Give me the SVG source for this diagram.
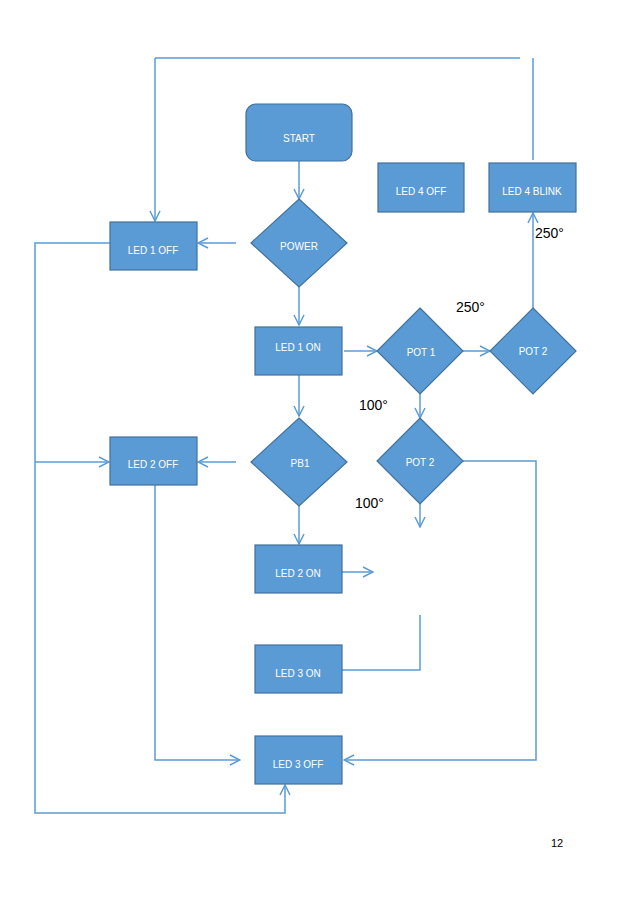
<svg xmlns="http://www.w3.org/2000/svg" width="638" height="902" viewBox="0 0 638 902">
<style>
.n{fill:#5B9BD5;stroke:#41719C;stroke-width:1.2}
.t{fill:#fff;font-family:"Liberation Sans",Arial,sans-serif;font-size:10px;text-anchor:middle;dominant-baseline:central}
.c{fill:none;stroke:#5B9BD5;stroke-width:1.5}
.a{marker-end:url(#ar)}
.l{font-family:"Liberation Sans",Arial,sans-serif;font-size:14px;fill:#000}
</style>
<defs><marker id="ar" viewBox="0 0 12 12" refX="11" refY="6" markerWidth="12" markerHeight="12" markerUnits="userSpaceOnUse" orient="auto"><path d="M1,1 L11,6 L1,11" fill="none" stroke="#5B9BD5" stroke-width="1.5"/></marker></defs>
<rect width="638" height="902" fill="#fff"/>
<g id="connectors">
<path class="c a" d="M299,161 V199"/>
<path class="c a" d="M236,243 H198"/>
<path class="c" d="M533,160 V58 M520,58 H155"/>
<path class="c a" d="M155,58 V221"/>
<path class="c a" d="M299,287 V325"/>
<path class="c a" d="M344,351 H377"/>
<path class="c a" d="M463,351 H490"/>
<path class="c a" d="M533,308 V213"/>
<path class="c a" d="M299,375 V416"/>
<path class="c a" d="M420,394 V418"/>
<path class="c a" d="M420,504 V527"/>
<path class="c a" d="M463,461 H536 V760 H344"/>
<path class="c a" d="M236,462 H198"/>
<path class="c a" d="M110,243 H35 V813 H285 V785"/>
<path class="c a" d="M35,462 H109"/>
<path class="c a" d="M155,485 V760 H240"/>
<path class="c a" d="M299,506 V544"/>
<path class="c a" d="M342,572 H373"/>
<path class="c" d="M342,670 H420 V615"/>
</g>
<g id="start"><rect class="n" x="246" y="104" width="106" height="57" rx="10"/><text class="t" x="299" y="138">START</text></g>
<g id="power"><polygon class="n" points="299,199 347,243 299,287 251,243"/><text class="t" x="299" y="246">POWER</text></g>
<g id="led1off"><rect class="n" x="110" y="222" width="87" height="48"/><text class="t" x="153" y="250">LED 1 OFF</text></g>
<g id="led4off"><rect class="n" x="378" y="163" width="86" height="49"/><text class="t" x="421" y="191">LED 4 OFF</text></g>
<g id="led4blink"><rect class="n" x="489" y="163" width="87" height="49"/><text class="t" x="532" y="191">LED 4 BLINK</text></g>
<g id="led1on"><rect class="n" x="255" y="327" width="87" height="48"/><text class="t" x="298" y="347">LED 1 ON</text></g>
<g id="pot1"><polygon class="n" points="420,308 463,351 420,394 377,351"/><text class="t" x="421" y="352">POT 1</text></g>
<g id="pot2a"><polygon class="n" points="533,308 576,351 533,394 490,351"/><text class="t" x="533" y="351">POT 2</text></g>
<g id="pb1"><polygon class="n" points="299,418 347,462 299,506 251,462"/><text class="t" x="300" y="463">PB1</text></g>
<g id="pot2b"><polygon class="n" points="420,418 463,461 420,504 377,461"/><text class="t" x="420" y="462">POT 2</text></g>
<g id="led2off"><rect class="n" x="110" y="437" width="87" height="48"/><text class="t" x="153" y="464">LED 2 OFF</text></g>
<g id="led2on"><rect class="n" x="255" y="545" width="87" height="48"/><text class="t" x="298" y="573">LED 2 ON</text></g>
<g id="led3on"><rect class="n" x="255" y="645" width="87" height="48"/><text class="t" x="298" y="673">LED 3 ON</text></g>
<g id="led3off"><rect class="n" x="255" y="736" width="87" height="48"/><text class="t" x="298" y="764">LED 3 OFF</text></g>
<text class="l" x="535" y="238">250°</text>
<text class="l" x="456" y="312">250°</text>
<text class="l" x="359" y="410">100°</text>
<text class="l" x="355" y="508">100°</text>
<text x="557" y="847" style="font-family:'Liberation Sans',Arial,sans-serif;font-size:11px;text-anchor:middle">12</text>
</svg>
